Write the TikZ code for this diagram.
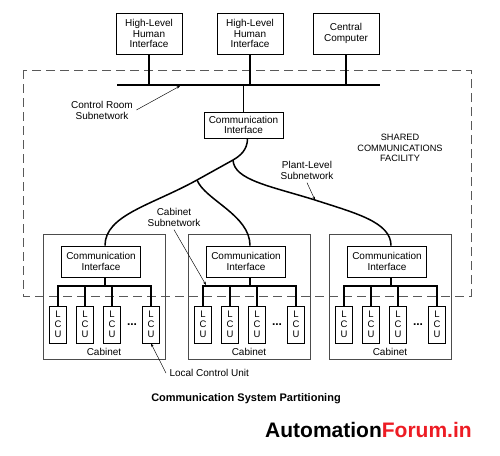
\documentclass[tikz,border=0pt]{standalone}
\usepackage{fontspec}
\setmainfont{Liberation Sans}
\usetikzlibrary{arrows.meta}
\definecolor{forumred}{RGB}{237,28,36}
\tikzset{
  unitbox/.style={draw, line width=.9pt, minimum width=66pt, minimum height=41pt, inner sep=0pt, align=center, font=\fontsize{10}{10.5}\selectfont},
  ifbox/.style={unitbox, minimum width=79pt, minimum height=31pt},
  cabbox/.style={draw=black!70, line width=.7pt, minimum width=122pt, minimum height=125pt, inner sep=0pt},
  lcubox/.style={unitbox, minimum width=17pt, minimum height=37pt, font=\fontsize{9.5}{10}\selectfont},
  tag/.style={align=center, font=\fontsize{10}{11}\selectfont},
  etc/.style={inner sep=0pt, font=\bfseries\fontsize{12}{12}\selectfont},
  bus/.style={line width=1.9pt},
  link/.style={line width=1.5pt},
  leader/.style={line width=.45pt, -{Stealth[length=3.5pt, width=2.5pt]}},
  facility/.style={draw=black!65, line width=.8pt, dash pattern=on 9pt off 5pt}
}
\begin{document}
\begin{tikzpicture}[x=1pt, y=-1pt]
\useasboundingbox (0,0) rectangle (500,455);

% shared communications facility
\draw [facility] (23,70) rectangle (471,296);
\node [tag, font=\fontsize{9.2}{10.5}\selectfont] (scf) at (400,148) {SHARED\\COMMUNICATIONS\\FACILITY};

% control room
\node [unitbox] (hli1) at (149,33.5) {High-Level\\Human\\Interface};
\node [unitbox] (hli2) at (250,33.5) {High-Level\\Human\\Interface};
\node [unitbox] (cc) at (346,33.5) {Central\\Computer};
\coordinate (busw) at (117,85);
\coordinate (buse) at (380,85);
\draw [bus] (busw) -- (buse);
\draw [link] (hli1.south) -- (hli1.south |- busw);
\draw [link] (hli2.south) -- (hli2.south |- busw);
\draw [link] (cc.south) -- (cc.south |- busw);

\node [ifbox, minimum height=26pt] (ci) at (243.5,125) {Communication\\Interface};
\draw [link] (ci.north) -- (ci.north |- busw);

\node [tag] (crnet) at (102,110) {Control Room\\Subnetwork};
\coordinate (crtip) at (180,86);
\draw [leader] (crnet.east) -- (crtip);

% cabinets
\foreach \cb/\px in {1/105, 2/250, 3/391} {
  \node [cabbox] (cab\cb) at (\px-1,296.5) {};
  \node [ifbox] (cif\cb) at (\px-4,261.5) {Communication\\Interface};
  \foreach \lu/\dx in {1/-47, 2/-20, 3/7, 4/46} {
    \node [lcubox] (lcu\cb\lu) at (\px+\dx,324.5) {L\\C\\U};
  }
  \coordinate (bus\cb) at (\px,286);
  \draw [link] ([xshift=4pt]cif\cb.south) -- (bus\cb);
  \draw [link] (lcu\cb1.north) |- (bus\cb) -| (lcu\cb4.north);
  \draw [link] (lcu\cb2.north) -- (lcu\cb2.north |- bus\cb);
  \draw [link] (lcu\cb3.north) -- (lcu\cb3.north |- bus\cb);
  \node [etc] (dots\cb) at (\px+27,325) {...};
  \node [tag] (cabtxt\cb) at (\px-1,352) {Cabinet};
}

% plant-level subnetwork
\coordinate (b1) at (233,160);
\coordinate (b2) at (197,180);
\coordinate (pl) at (315,200);
\draw [link] ([xshift=4pt]ci.south) .. controls (247.5,150) and (240,156) .. (b1) -- (b2);
\draw [link] (b2) .. controls (152,205) and (105,215) .. ([xshift=4pt]cif1.north);
\draw [link] (b2) .. controls (205,200) and (250,215) .. ([xshift=4pt]cif2.north);
\draw [link] (b1) .. controls (234,180) and (270,186) .. (pl) .. controls (355,213) and (391,222) .. ([xshift=4pt]cif3.north);

\node [tag] (plnet) at (307,170) {Plant-Level\\Subnetwork};
\draw [leader] (plnet.south) -- (pl);

\node [tag] (cbnet) at (174,217) {Cabinet\\Subnetwork};
\coordinate (cbtip) at (206,285);
\draw [leader] (cbnet.south) -- (cbtip);

\node [tag, anchor=west] (lcunote) at (166,373) {Local Control Unit};
\draw [leader] (lcunote.west) -- (lcu14.south);

\node [font=\bfseries\fontsize{11}{13}\selectfont] (title) at (246,399) {Communication System Partitioning};
\node [anchor=base west, inner sep=0pt, font=\bfseries\fontsize{21}{24}\selectfont] (brand) at (265,437) {Automation\textcolor{forumred}{Forum.in}};

\end{tikzpicture}
\end{document}
